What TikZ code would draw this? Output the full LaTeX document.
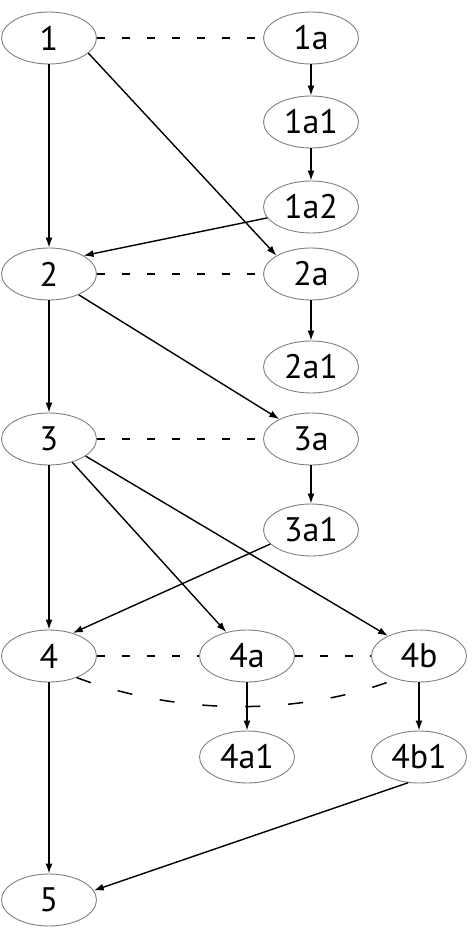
\documentclass[tikz,border=0pt]{standalone}
\usepackage{fontspec}
\setmainfont{PT Sans}
\usetikzlibrary{shapes.geometric,arrows.meta}
\begin{document}
\begin{tikzpicture}[x=1pt,y=-1pt,
  nd/.style={ellipse,draw=black!50,line width=0.9pt,minimum width=95pt,minimum height=52pt,inner sep=0pt,font=\fontsize{34}{34}\selectfont},
  arr/.style={line width=1.4pt,-{Latex[length=10pt,width=7pt]}},
  dsh/.style={line width=1.8pt,dash pattern=on 8pt off 17pt},
  dshb/.style={line width=1.5pt,dash pattern=on 15pt off 28pt}]
\useasboundingbox (0,0) rectangle (474,933);
\node[nd] (n1) at (49,38) {1};
\node[nd] (n1a) at (311,38) {1a};
\node[nd] (n1a1) at (311,122) {1a1};
\node[nd] (n1a2) at (311,207) {1a2};
\node[nd] (n2) at (49,274) {2};
\node[nd] (n2a) at (311,274) {2a};
\node[nd] (n2a1) at (311,367) {2a1};
\node[nd] (n3) at (49,439) {3};
\node[nd] (n3a) at (311,439) {3a};
\node[nd] (n3a1) at (311,530) {3a1};
\node[nd] (n4) at (49,656) {4};
\node[nd] (n4a) at (247,656) {4a};
\node[nd] (n4b) at (419,656) {4b};
\node[nd] (n4a1) at (247,757) {4a1};
\node[nd] (n4b1) at (419,757) {4b1};
\node[nd] (n5) at (49,900) {5};
% dashed
\draw[dsh] (n1) -- (n1a);
\draw[dsh] (n2) -- (n2a);
\draw[dsh] (n3) -- (n3a);
\draw[dsh] (n4) -- (n4a);
\draw[dsh] (n4a) -- (n4b);
\draw[dshb] (n4.-38) .. controls (180,716) and (300,716) .. (n4b.225);
% arrows
\draw[arr] (n1) -- (n2);
\draw[arr] (n1.-21) -- (n2a.152);
\draw[arr] (n1a) -- (n1a1);
\draw[arr] (n1a1) -- (n1a2);
\draw[arr] (n1a2.194) -- (n2.28);
\draw[arr] (n2) -- (n3);
\draw[arr] (n2.-35) -- (n3a.148);
\draw[arr] (n2a) -- (n2a1);
\draw[arr] (n3) -- (n4);
\draw[arr] (n3.-45) -- (n4a.131);
\draw[arr] (n3.-25) -- (n4b.147);
\draw[arr] (n3a) -- (n3a1);
\draw[arr] (n3a1.199) -- (n4.44);
\draw[arr] (n4) -- (n5);
\draw[arr] (n4a) -- (n4a1);
\draw[arr] (n4b) -- (n4b1);
\draw[arr] (n4b1.247) -- (n5.12);
\end{tikzpicture}
\end{document}
